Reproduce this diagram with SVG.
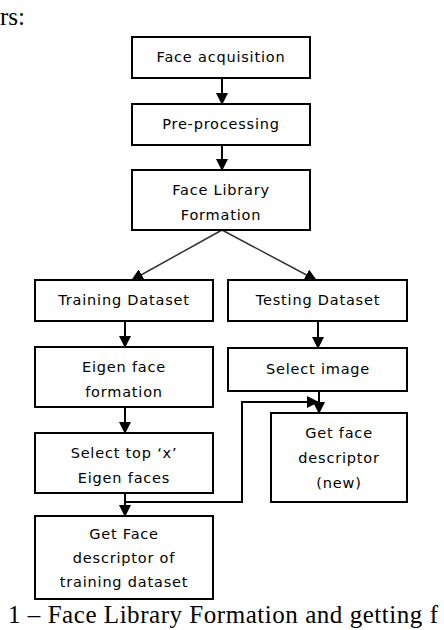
<svg xmlns="http://www.w3.org/2000/svg" width="444" height="630" viewBox="0 0 444 630">
<style>
.box{fill:#fff;stroke:#000;stroke-width:2}
.t{font-family:"DejaVu Sans",sans-serif;font-size:14.5px;letter-spacing:0.8px;text-anchor:middle;fill:#000}
.c{fill:none;stroke:#000;stroke-width:2}
.d{fill:none;stroke:#333;stroke-width:1.5}
.cap{font-family:"Liberation Serif",serif;font-size:25px;fill:#000}
</style>
<defs>
<marker id="ah" markerWidth="12" markerHeight="12" refX="11" refY="6" orient="auto" markerUnits="userSpaceOnUse">
<path d="M0,0 L12,6 L0,12 Z" fill="#000"/>
</marker>
</defs>
<rect width="444" height="630" fill="#fff"/>
<text class="cap" x="0" y="25">rs:</text>
<g id="connectors">
<line class="c" x1="222" y1="78" x2="222" y2="104" marker-end="url(#ah)"/>
<line class="c" x1="222" y1="145" x2="222" y2="170" marker-end="url(#ah)"/>
<line class="d" x1="222" y1="230" x2="132" y2="280" marker-end="url(#ah)"/>
<line class="d" x1="222" y1="230" x2="316" y2="280" marker-end="url(#ah)"/>
<line class="c" x1="125" y1="321" x2="125" y2="347" marker-end="url(#ah)"/>
<line class="c" x1="318" y1="321" x2="318" y2="348" marker-end="url(#ah)"/>
<line class="c" x1="125" y1="407" x2="125" y2="433" marker-end="url(#ah)"/>
<line class="c" x1="319" y1="391" x2="319" y2="413" marker-end="url(#ah)"/>
<line class="c" x1="125" y1="493" x2="125" y2="516" marker-end="url(#ah)"/>
<polyline class="c" points="125,502 242,502 242,402 318,402" marker-end="url(#ah)"/>
</g>
<g id="n1"><rect class="box" x="132" y="37" width="178" height="41"/><text class="t" x="221" y="62">Face acquisition</text></g>
<g id="n2"><rect class="box" x="132" y="104" width="178" height="41"/><text class="t" x="221" y="129">Pre-processing</text></g>
<g id="n3"><rect class="box" x="132" y="170" width="178" height="60"/><text class="t" x="221" y="195">Face Library</text><text class="t" x="221" y="220">Formation</text></g>
<g id="n4"><rect class="box" x="35" y="280" width="178" height="41"/><text class="t" x="124" y="305">Training Dataset</text></g>
<g id="n5"><rect class="box" x="228" y="280" width="179" height="41"/><text class="t" x="318" y="305">Testing Dataset</text></g>
<g id="n6"><rect class="box" x="35" y="347" width="178" height="60"/><text class="t" x="124" y="372">Eigen face</text><text class="t" x="124" y="397">formation</text></g>
<g id="n7"><rect class="box" x="228" y="348" width="179" height="43"/><text class="t" x="318" y="374">Select image</text></g>
<g id="n8"><rect class="box" x="271" y="413" width="136" height="89"/><text class="t" x="339" y="438">Get face</text><text class="t" x="339" y="463">descriptor</text><text class="t" x="339" y="488">(new)</text></g>
<g id="n9"><rect class="box" x="35" y="433" width="178" height="60"/><text class="t" x="124" y="458">Select top ‘x’</text><text class="t" x="124" y="483">Eigen faces</text></g>
<g id="n10"><rect class="box" x="35" y="516" width="178" height="83"/><text class="t" x="124" y="539">Get Face</text><text class="t" x="124" y="563">descriptor of</text><text class="t" x="124" y="587">training dataset</text></g>
<text class="cap" x="8" y="623" textLength="430" lengthAdjust="spacing">1 – Face Library Formation and getting f</text>
</svg>
